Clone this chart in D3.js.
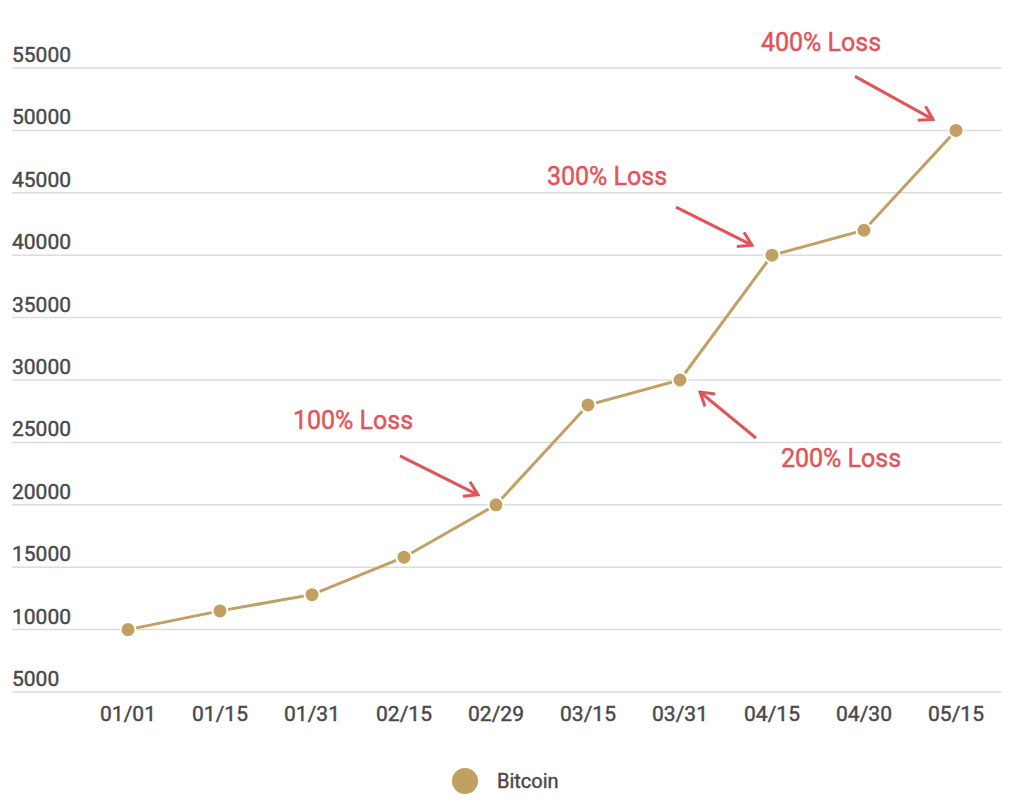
<!DOCTYPE html>
<html lang="en">
  <head>
    <meta charset="UTF-8" />
    <title>Bitcoin Loss Chart</title>
    <script src="https://cdnjs.cloudflare.com/ajax/libs/d3/7.8.5/d3.min.js"></script>
    <style>
      body {
        margin: 0;
        background: #fff;
      }
      #chart {
        width: 1024px;
        height: 810px;
      }
      text {
        font-family: Roboto, "Noto Sans", sans-serif;
        stroke-width: 0.45px;
      }
    </style>
  </head>
  <body>
    <div id="chart"></div>

    <script>
      // Data
      const dates = ["01/01", "01/15", "01/31", "02/15", "02/29", "03/15", "03/31", "04/15", "04/30", "05/15"];
      const bitcoin = [10000, 11500, 12800, 15800, 20000, 28000, 30000, 40000, 42000, 50000];
      const yTicks = [5000, 10000, 15000, 20000, 25000, 30000, 35000, 40000, 45000, 50000, 55000];

      // annotations: point index, label, arrow start / end and text offsets from the point
      const notes = [
        { i: 4, label: "100% Loss", from: [-96, -49], to: [-18, -10], text: [-143, -76] },
        { i: 6, label: "200% Loss", from: [76, 58], to: [20, 12], text: [161, 87] },
        { i: 7, label: "300% Loss", from: [-96, -48], to: [-20, -10], text: [-165, -70] },
        { i: 9, label: "400% Loss", from: [-101, -54], to: [-23, -11], text: [-135, -79] },
      ];

      const width = 1024;
      const height = 810;
      const gold = "#c1a062";
      const red = "#e0545a";
      const ink = "#4a4a4a";

      const svg = d3
        .select("#chart")
        .append("svg")
        .attr("width", width)
        .attr("height", height);

      const x = d3.scalePoint().domain(dates).range([82, 1002]).padding(0.5);
      const y = d3.scaleLinear().domain([5000, 55000]).range([692, 68]);

      // grid lines + y labels
      const grid = svg.append("g");
      grid
        .selectAll("line")
        .data(yTicks)
        .join("line")
        .attr("x1", 12)
        .attr("x2", 1002)
        .attr("y1", (d) => y(d))
        .attr("y2", (d) => y(d))
        .attr("stroke", "#dcdcdc")
        .attr("stroke-width", 1.5);

      grid
        .selectAll("text")
        .data(yTicks)
        .join("text")
        .attr("x", 12)
        .attr("y", (d) => y(d) - 6)
        .attr("fill", ink)
        .attr("stroke", ink)
        .attr("font-size", "21px")
        .text((d) => d);

      // x labels
      svg
        .append("g")
        .selectAll("text")
        .data(dates)
        .join("text")
        .attr("x", (d) => x(d))
        .attr("y", 721)
        .attr("text-anchor", "middle")
        .attr("fill", ink)
        .attr("stroke", ink)
        .attr("font-size", "21px")
        .text((d) => d);

      // line
      const line = d3
        .line()
        .x((d, i) => x(dates[i]))
        .y((d) => y(d));

      svg
        .append("path")
        .datum(bitcoin)
        .attr("d", line)
        .attr("fill", "none")
        .attr("stroke", gold)
        .attr("stroke-width", 3);

      svg
        .append("g")
        .selectAll("circle")
        .data(bitcoin)
        .join("circle")
        .attr("cx", (d, i) => x(dates[i]))
        .attr("cy", (d) => y(d))
        .attr("r", 7.5)
        .attr("fill", gold)
        .attr("stroke", "#fff")
        .attr("stroke-width", 2);

      // annotations
      svg
        .append("defs")
        .append("marker")
        .attr("id", "arrow")
        .attr("viewBox", "-15 -9 17 18")
        .attr("refX", 0)
        .attr("refY", 0)
        .attr("markerWidth", 17)
        .attr("markerHeight", 18)
        .attr("markerUnits", "userSpaceOnUse")
        .attr("orient", "auto")
        .append("path")
        .attr("d", "M-13,-8L0,0L-13,8")
        .attr("fill", "none")
        .attr("stroke", red)
        .attr("stroke-width", 3);

      const ann = svg
        .append("g")
        .selectAll("g")
        .data(notes)
        .join("g")
        .attr("transform", (d) => `translate(${x(dates[d.i])},${y(bitcoin[d.i])})`);

      ann
        .append("line")
        .attr("x1", (d) => d.from[0])
        .attr("y1", (d) => d.from[1])
        .attr("x2", (d) => d.to[0])
        .attr("y2", (d) => d.to[1])
        .attr("stroke", red)
        .attr("stroke-width", 3)
        .attr("marker-end", "url(#arrow)");

      ann
        .append("text")
        .attr("x", (d) => d.text[0])
        .attr("y", (d) => d.text[1])
        .attr("text-anchor", "middle")
        .attr("fill", red)
        .attr("stroke", red)
        .attr("font-size", "25px")
        .text((d) => d.label);

      // legend
      const legend = svg.append("g").attr("transform", "translate(465,781)");
      legend.append("circle").attr("r", 13).attr("fill", gold);
      legend
        .append("text")
        .attr("x", 32)
        .attr("y", 7)
        .attr("fill", ink)
        .attr("stroke", ink)
        .attr("font-size", "20px")
        .text("Bitcoin");
    </script>
  </body>
</html>
